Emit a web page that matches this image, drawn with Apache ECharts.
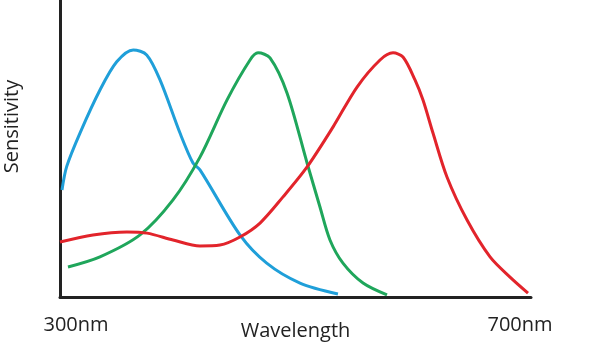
<!DOCTYPE html>
<html>
<head>
<meta charset="utf-8">
<script src="https://cdn.jsdelivr.net/npm/echarts@6/dist/echarts.min.js"></script>
<style>html,body{margin:0;padding:0;background:#fff}#c{width:590px;height:360px}</style>
</head>
<body>
<div id="c"></div>
<script>
// Wavelength (nm), sensitivity (0-100)
var tickLabels = [300, 700];
var blueX = [287.4, 291.6, 303.6, 321.6, 336.7, 351.6, 363.7, 375.7, 393.7, 405.4, 411.7, 447.7, 471.8, 501.8, 536.0];
var blueY = [36.0, 43.9, 55.2, 69.7, 79.2, 83.2, 81.5, 73.1, 55.2, 45.1, 42.8, 20.9, 11.4, 4.7, 1.0];
var greenX = [292.8, 321.6, 357.7, 387.4, 411.7, 436.0, 456.8, 464.0, 474.8, 490.1, 508.2, 519.8, 528.8, 540.5, 558.6, 580.2];
var greenY = [10.1, 13.5, 20.9, 32.7, 47.1, 66.3, 79.8, 82.2, 80.5, 68.7, 45.1, 30.3, 19.2, 11.4, 4.7, 0.7];
var redX = [285.6, 315.3, 345.9, 364.0, 387.4, 411.7, 429.7, 447.7, 465.8, 486.5, 508.2, 531.5, 553.2, 573.9, 585.6, 594.6, 605.4, 612.6, 621.6, 634.2, 652.3, 673.0, 691.0, 707.2];
var redY = [18.5, 20.9, 21.9, 21.5, 19.2, 17.2, 17.5, 20.2, 24.9, 33.7, 43.8, 57.2, 70.7, 79.8, 82.2, 80.8, 73.1, 66.3, 55.2, 40.4, 25.9, 13.5, 6.7, 1.3];

function pairs(xs, ys) { return xs.map(function (x, i) { return [x, ys[i]]; }); }

var font = '"Open Sans", "Noto Sans", sans-serif';
var chart = echarts.init(document.getElementById('c'), null, { renderer: 'canvas' });
function line(xs, ys, color) {
  return {
    type: 'line', data: pairs(xs, ys), smooth: 0.3, showSymbol: false, symbol: 'none',
    lineStyle: { color: color, width: 3 }, clip: false, animation: false
  };
}
chart.setOption({
  animation: false,
  grid: { left: 60, right: 59, top: 0, bottom: 63, containLabel: false, outerBoundsMode: 'none' },
  xAxis: {
    type: 'value', min: 285.6, max: 709.9,
    name: 'Wavelength', nameLocation: 'middle', nameGap: 24, nameMoveOverlap: false,
    nameTextStyle: { fontFamily: font, fontSize: 20, color: '#222' },
    axisLine: { show: true, lineStyle: { color: '#222', width: 3 } },
    axisTick: { show: false },
    splitLine: { show: false },
    axisLabel: {
      customValues: tickLabels, formatter: function (v) { return v + 'nm'; },
      fontFamily: font, fontSize: 20, color: '#222', margin: 18
    }
  },
  yAxis: {
    type: 'value', min: 0, max: 100,
    name: 'Sensitivity', nameLocation: 'middle', nameGap: 38, nameMoveOverlap: false,
    nameTextStyle: { fontFamily: font, fontSize: 20, color: '#222', padding: [0, 0, 0, 44] },
    axisLine: { show: true, lineStyle: { color: '#222', width: 3 } },
    axisTick: { show: false }, axisLabel: { show: false }, splitLine: { show: false }
  },
  series: [
    line(blueX, blueY, '#1f9fd9'),
    line(greenX, greenY, '#1fa65b'),
    line(redX, redY, '#e2242b')
  ]
});
</script>
</body>
</html>
